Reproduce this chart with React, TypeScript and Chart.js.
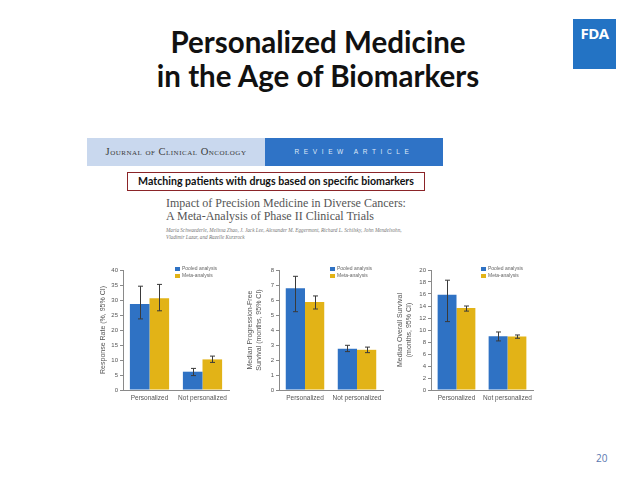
import React, { useEffect, useRef } from "react";
import { Chart, registerables } from "chart.js";

Chart.register(...registerables);

// ---- data ----
const categories = ["Personalized", "Not personalized"];
const seriesLabels = ["Pooled analysis", "Meta-analysis"];

// Response rate (%, 95% CI)
const responsePooled = [28.7, 6.1];
const responsePooledLow = [23.7, 4.8];
const responsePooledHigh = [34.6, 7.2];
const responseMeta = [30.6, 10.2];
const responseMetaLow = [26.4, 9.2];
const responseMetaHigh = [35.2, 11.3];
const responseTicks = [0, 5, 10, 15, 20, 25, 30, 35, 40];

// Median progression-free survival (months, 95% CI)
const pfsPooled = [6.78, 2.75];
const pfsPooledLow = [5.22, 2.56];
const pfsPooledHigh = [7.58, 2.98];
const pfsMeta = [5.87, 2.68];
const pfsMetaLow = [5.4, 2.49];
const pfsMetaHigh = [6.27, 2.86];
const pfsTicks = [0, 1, 2, 3, 4, 5, 6, 7, 8];

// Median overall survival (months, 95% CI)
const osPooled = [15.86, 8.95];
const osPooledLow = [11.4, 8.18];
const osPooledHigh = [18.3, 9.67];
const osMeta = [13.65, 8.9];
const osMetaLow = [13.15, 8.62];
const osMetaHigh = [14.0, 9.17];
const osTicks = [0, 2, 4, 6, 8, 10, 12, 14, 16, 18, 20];

const BLUE = "#2f72c4";
const GOLD = "#e2b317";
const AXIS = "#8a8a8a";
const TEXT = "#555555";
const FONT = "'Liberation Sans', Arial, sans-serif";

type PanelSpec = {
  left: number;
  yTitle: string | string[];
  titlePad: number;
  yWidth: number;
  rightPad: number;
  ticks: number[];
  pooled: number[];
  pooledLow: number[];
  pooledHigh: number[];
  meta: number[];
  metaLow: number[];
  metaHigh: number[];
};

// Whiskers for the confidence intervals
const errorBarPlugin = {
  id: "errorBars",
  afterDatasetsDraw(chart: any) {
    const { ctx } = chart;
    const yScale = chart.scales.y;
    ctx.save();
    ctx.strokeStyle = "#3a3a3a";
    ctx.lineWidth = 1;
    chart.data.datasets.forEach((ds: any, di: number) => {
      const meta = chart.getDatasetMeta(di);
      meta.data.forEach((bar: any, i: number) => {
        const lo = yScale.getPixelForValue(ds.low[i]);
        const hi = yScale.getPixelForValue(ds.high[i]);
        const x = Math.round(bar.x) + 0.5;
        const cap = 2.5;
        ctx.beginPath();
        ctx.moveTo(x, lo);
        ctx.lineTo(x, hi);
        ctx.moveTo(x - cap, hi);
        ctx.lineTo(x + cap, hi);
        ctx.moveTo(x - cap, lo);
        ctx.lineTo(x + cap, lo);
        ctx.stroke();
      });
    });
    ctx.restore();
  },
};

// Small legend in the upper middle of the plot area
const miniLegendPlugin = {
  id: "miniLegend",
  afterDraw(chart: any) {
    const { ctx, chartArea } = chart;
    const x0 = Math.round(chartArea.left + chartArea.width / 2) - 1;
    let y0 = chartArea.top - 3;
    ctx.save();
    ctx.font = `5px ${FONT}`;
    ctx.textBaseline = "middle";
    chart.data.datasets.forEach((ds: any) => {
      ctx.fillStyle = ds.backgroundColor;
      ctx.fillRect(x0, y0, 5, 4);
      ctx.fillStyle = "#666";
      ctx.fillText(ds.label, x0 + 7, y0 + 2);
      y0 += 7;
    });
    ctx.restore();
  },
};

function Panel({ spec }: { spec: PanelSpec }) {
  const ref = useRef<HTMLCanvasElement | null>(null);
  useEffect(() => {
    if (!ref.current) return;
    const max = spec.ticks[spec.ticks.length - 1];
    const step = spec.ticks[1] - spec.ticks[0];
    const chart = new Chart(ref.current, {
      type: "bar",
      data: {
        labels: categories,
        datasets: [
          {
            label: seriesLabels[0],
            data: spec.pooled,
            backgroundColor: BLUE,
            low: spec.pooledLow,
            high: spec.pooledHigh,
          } as any,
          {
            label: seriesLabels[1],
            data: spec.meta,
            backgroundColor: GOLD,
            low: spec.metaLow,
            high: spec.metaHigh,
          } as any,
        ],
      },
      options: {
        animation: false,
        responsive: false,
        maintainAspectRatio: false,
        layout: { padding: { top: 10, right: spec.rightPad, left: 0, bottom: 0 } },
        datasets: { bar: { categoryPercentage: 0.74, barPercentage: 1 } },
        plugins: { legend: { display: false }, tooltip: { enabled: false } },
        scales: {
          x: {
            grid: { display: false, drawTicks: false },
            border: { color: AXIS, width: 1 },
            ticks: {
              color: TEXT,
              font: { family: FONT, size: 6.5 },
              padding: 4,
              maxRotation: 0,
              autoSkip: false,
            },
            afterFit: (s: any) => {
              s.height = 20;
            },
          },
          y: {
            min: 0,
            max,
            afterBuildTicks: (s: any) => {
              s.ticks = spec.ticks.map((v) => ({ value: v }));
            },
            ticks: { color: TEXT, font: { family: FONT, size: 6 }, padding: 2, stepSize: step, autoSkip: false },
            grid: { drawOnChartArea: false, drawTicks: true, tickLength: 3, color: AXIS },
            border: { color: AXIS, width: 1 },
            title: {
              display: true,
              text: spec.yTitle,
              color: TEXT,
              font: { family: FONT, size: 7, lineHeight: 1.2 },
              padding: { top: spec.titlePad, bottom: 0 },
            },
            afterFit: (s: any) => {
              s.width = spec.yWidth;
            },
          },
        },
      },
      plugins: [errorBarPlugin, miniLegendPlugin],
    });
    return () => chart.destroy();
  }, []);
  return (
    <canvas
      ref={ref}
      width={150}
      height={150}
      style={{ position: "absolute", left: spec.left, top: 260, width: 150, height: 150 }}
    />
  );
}

const panels: PanelSpec[] = [
  {
    left: 90,
    yTitle: "Response Rate (%, 95% CI)",
    titlePad: 9,
    yWidth: 33,
    rightPad: 11,
    ticks: responseTicks,
    pooled: responsePooled,
    pooledLow: responsePooledLow,
    pooledHigh: responsePooledHigh,
    meta: responseMeta,
    metaLow: responseMetaLow,
    metaHigh: responseMetaHigh,
  },
  {
    left: 240,
    yTitle: ["Median Progression-Free", "Survival (months, 95% CI)"],
    titlePad: 6,
    yWidth: 39,
    rightPad: 7,
    ticks: pfsTicks,
    pooled: pfsPooled,
    pooledLow: pfsPooledLow,
    pooledHigh: pfsPooledHigh,
    meta: pfsMeta,
    metaLow: pfsMetaLow,
    metaHigh: pfsMetaHigh,
  },
  {
    left: 390,
    yTitle: ["Median Overall Survival", "(months, 95% CI)"],
    titlePad: 6,
    yWidth: 41,
    rightPad: 7,
    ticks: osTicks,
    pooled: osPooled,
    pooledLow: osPooledLow,
    pooledHigh: osPooledHigh,
    meta: osMeta,
    metaLow: osMetaLow,
    metaHigh: osMetaHigh,
  },
];

export default function App() {
  const abs = (o: React.CSSProperties): React.CSSProperties => ({ position: "absolute", ...o });
  return (
    <div
      style={{
        position: "fixed",
        left: 0,
        top: 0,
        width: 638,
        height: 478,
        background: "#ffffff",
        overflow: "hidden",
        fontFamily: FONT,
      }}
    >
      {/* slide title */}
      <div
        style={abs({
          left: 0,
          top: 25,
          width: 636,
          textAlign: "center",
          fontFamily: "Lato, 'Open Sans', sans-serif",
          fontWeight: 700,
          fontSize: 29.5,
          lineHeight: "34px",
          color: "#111",
        })}
      >
        Personalized Medicine
        <br />
        in the Age of Biomarkers
      </div>

      {/* agency logo */}
      <div
        style={abs({
          left: 573,
          top: 19,
          width: 43,
          height: 50,
          background: "#2373c4",
          color: "#fff",
          fontFamily: "'Open Sans', sans-serif",
          fontWeight: 700,
          fontSize: 15,
          textAlign: "center",
          lineHeight: "28px",
          letterSpacing: -0.5,
        })}
      >
        FDA
      </div>

      {/* journal banner */}
      <div style={abs({ left: 87, top: 138, width: 178, height: 28, background: "#c9d8ee" })} />
      <div
        style={abs({
          left: 87,
          top: 138,
          width: 178,
          height: 28,
          lineHeight: "28px",
          textAlign: "center",
          fontFamily: "'Liberation Serif', 'DejaVu Serif', serif",
          fontVariant: "small-caps",
          fontSize: 10.5,
          color: "#3a3a3a",
          letterSpacing: 0.5,
          whiteSpace: "nowrap",
        })}
      >
        Journal of Clinical Oncology
      </div>
      <div
        style={abs({
          left: 265,
          top: 138,
          width: 178,
          height: 28,
          background: "#2f73c6",
          color: "#dfe8f6",
          lineHeight: "28px",
          textAlign: "center",
          fontSize: 6.5,
          letterSpacing: 4.6,
          whiteSpace: "nowrap",
        })}
      >
        REVIEW ARTICLE
      </div>

      {/* highlighted caption */}
      <div
        style={abs({
          left: 127,
          top: 172,
          width: 298,
          height: 19,
          boxSizing: "border-box",
          border: "1.5px solid #8b2428",
          textAlign: "center",
          lineHeight: "16px",
          fontFamily: "Lato, 'Open Sans', sans-serif",
          fontWeight: 700,
          fontSize: 10.6,
          color: "#111",
          whiteSpace: "nowrap",
        })}
      >
        Matching patients with drugs based on specific biomarkers
      </div>

      {/* article heading */}
      <div
        style={abs({
          left: 166,
          top: 197,
          fontFamily: "'Liberation Serif', 'DejaVu Serif', serif",
          fontSize: 12,
          lineHeight: "12.5px",
          color: "#555",
          whiteSpace: "nowrap",
        })}
      >
        Impact of Precision Medicine in Diverse Cancers:
        <br />
        A Meta-Analysis of Phase II Clinical Trials
      </div>
      <div
        style={abs({
          left: 166,
          top: 227,
          fontFamily: "'Liberation Serif', 'DejaVu Serif', serif",
          fontStyle: "italic",
          fontSize: 5.2,
          lineHeight: "7px",
          color: "#777",
          whiteSpace: "nowrap",
        })}
      >
        Maria Schwaederle, Melissa Zhao, J. Jack Lee, Alexander M. Eggermont, Richard L. Schilsky, John Mendelsohn,
        <br />
        Vladimir Lazar, and Razelle Kurzrock
      </div>

      {panels.map((p, i) => (
        <Panel key={i} spec={p} />
      ))}

      {/* page number */}
      <div style={abs({ left: 596, top: 451, fontSize: 10, color: "#5a78b0", fontFamily: "'Open Sans', sans-serif" })}>
        20
      </div>
    </div>
  );
}
